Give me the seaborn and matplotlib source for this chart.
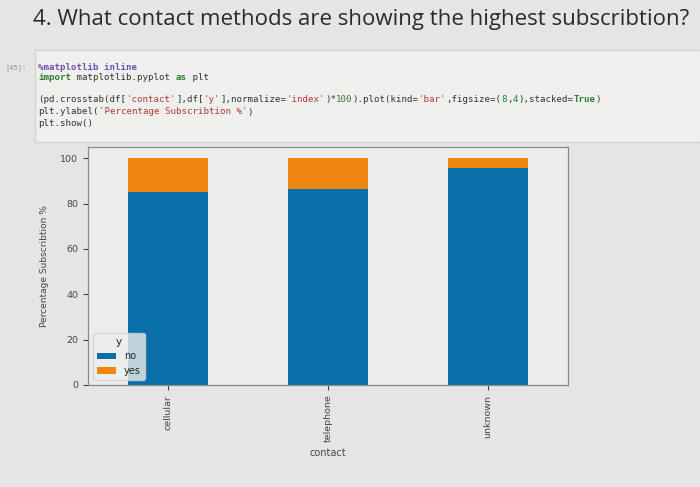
import numpy as np
import pandas as pd
import matplotlib
matplotlib.use("Agg")
import matplotlib.pyplot as plt
import seaborn as sns

# data (percent of each contact type)
contact = ["cellular", "telephone", "unknown"]
pct_no = [85.1, 86.6, 95.9]
pct_yes = [14.9, 13.4, 4.1]

df = pd.DataFrame({"contact": contact, "no": pct_no, "yes": pct_yes})
df["total"] = df["no"] + df["yes"]

sns.set_style("ticks")
plt.rcParams["font.family"] = ["DejaVu Sans"]

bg = "#e5e5e3"
fig = plt.figure(figsize=(7, 4.87), dpi=100, facecolor=bg)

# heading of the notebook cell
fig.text(33/700, 1-19/487, "4. What contact methods are showing the highest subscribtion?",
         fontsize=16, family=["Open Sans", "DejaVu Sans"], color="#2a2a2a", va="center")

# code cell box
fig.patches.append(plt.Rectangle((35/700, 1-142/487), 665/700, 92/487, transform=fig.transFigure,
                                 facecolor="#efefed", edgecolor="#d0d0ce", lw=0.8))
fig.text(5/700, 1-68/487, "[45]:", fontsize=5, color="#8a8aa8", family="DejaVu Sans Mono", va="center")

mono = "DejaVu Sans Mono"
fs = 6.6
cw = fs*100/72*0.602  # px per char
x0 = 38
k_green = "#2f7d32"
k_red = "#b03a3a"
k_purple = "#7050b0"
k_dark = "#333333"
code_lines = [
    (67, [("%matplotlib inline", k_purple, "bold")]),
    (78, [("import", k_green, "bold"), (" matplotlib.pyplot ", k_dark, "normal"),
          ("as", k_green, "bold"), (" plt", k_dark, "normal")]),
    (100, [("(pd.crosstab(df[", k_dark, "normal"), ("'contact'", k_red, "normal"),
           ("],df[", k_dark, "normal"), ("'y'", k_red, "normal"), ("],normalize=", k_dark, "normal"),
           ("'index'", k_red, "normal"), (")*", k_dark, "normal"), ("100", k_green, "normal"),
           (").plot(kind=", k_dark, "normal"), ("'bar'", k_red, "normal"), (",figsize=(", k_dark, "normal"),
           ("8", k_green, "normal"), (",", k_dark, "normal"), ("4", k_green, "normal"),
           ("),stacked=", k_dark, "normal"), ("True", k_green, "bold"), (")", k_dark, "normal")]),
    (112, [("plt.ylabel(", k_dark, "normal"), ("'Percentage Subscribtion %'", k_red, "normal"),
           (")", k_dark, "normal")]),
    (123, [("plt.show()", k_dark, "normal")]),
]
for y, segs in code_lines:
    n = 0
    for s, c, w in segs:
        fig.text((x0 + n*cw)/700, 1-y/487, s, fontsize=fs, family=mono, color=c,
                 weight=w, va="center")
        n += len(s)

# the chart
ax = fig.add_axes([88/700, 1-385/487, 480/700, 238/487])
ax.set_facecolor("#ededeb")
blue = "#0a6ea9"
orange = "#ef8512"
sns.barplot(data=df, x="contact", y="total", color=orange, width=0.5, ax=ax, saturation=1, linewidth=0)
sns.barplot(data=df, x="contact", y="no", color=blue, width=0.5, ax=ax, saturation=1, linewidth=0)
ax.set_ylim(0, 105)
ax.set_xlim(-0.5, 2.5)
ax.set_yticks([0, 20, 40, 60, 80, 100])
ax.tick_params(axis="x", labelrotation=90, labelsize=6.8, colors="#444444")
ax.tick_params(axis="y", labelsize=6.8, colors="#444444")
ax.set_ylabel("Percentage Subscribtion %", fontsize=6.5, color="#444444", labelpad=8)
ax.set_xlabel("contact", fontsize=7, color="#444444")
for sp in ax.spines.values():
    sp.set_visible(True)
    sp.set_color("#8a8a8a")
    sp.set_linewidth(0.9)

leg = ax.legend(handles=[ax.containers[1], ax.containers[0]], labels=["no", "yes"], title="y",
                loc="lower left", fontsize=7, title_fontsize=7.5, frameon=True)
leg.get_frame().set_facecolor("#ededeb")
leg.get_frame().set_edgecolor("#d0d0d0")

fig.savefig("out.png", dpi=100, facecolor=bg)
